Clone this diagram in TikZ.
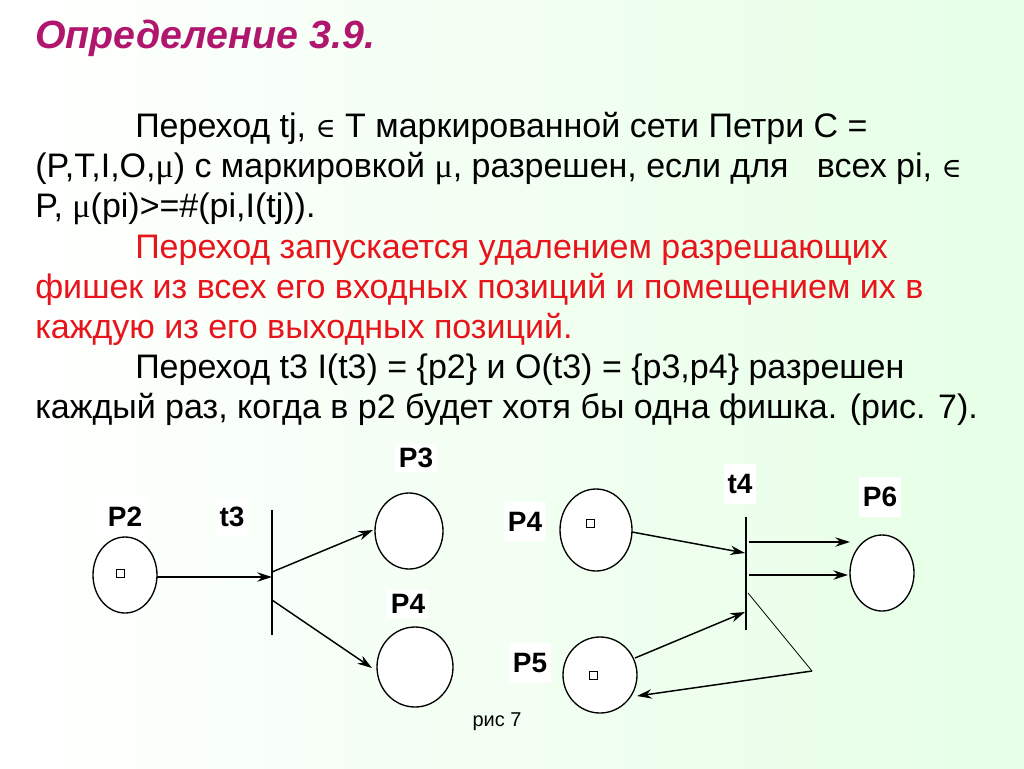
\documentclass[tikz,border=0pt]{standalone}
\usepackage{fontspec}
\setmainfont{Liberation Sans}
\newfontfamily\symfont{Liberation Serif}
\newfontfamily\elemfont{DejaVu Serif}
\usetikzlibrary{arrows.meta}
\definecolor{titlecol}{HTML}{B0166E}
\definecolor{redtext}{HTML}{E8141B}
\newcommand{\mmu}{{\symfont μ}}
\newcommand{\iin}{{\elemfont\scalebox{0.8}{∈}}}
\tikzset{
  token/.style={draw, line width=0.6pt, fill=white, minimum size=6pt, inner sep=0pt},
  lab/.style={fill=white, font=\fontsize{21}{24}\selectfont\bfseries, inner sep=3pt},
  bodyline/.style={anchor=base west, font=\fontsize{25.5}{30}\selectfont, inner sep=0pt},
  arc/.style={line width=1.1pt, -{Stealth[length=11pt, width=7pt]}},
}
\begin{document}
\begin{tikzpicture}[x=0.75pt, y=-0.75pt]
    \useasboundingbox (0,0) rectangle (1024,768);
    \shade[left color=white, right color=green!10] (0,0) rectangle (1024,768);

    % text
    \node[anchor=base west, inner sep=0pt, text=titlecol,
          font=\fontsize{29.5}{34}\selectfont\bfseries\itshape] (title) at (35,48) {Определение 3.9.};
    \node[bodyline] (l1) at (135,137) {Переход tj, \iin{} T маркированной сети Петри C =};
    \node[bodyline] (l2) at (35,177) {(P,T,I,O,\mmu) с маркировкой \mmu, разрешен, если для\ \ \ всех pi, \iin};
    \node[bodyline] (l3) at (35,217) {P, \mmu(pi)>=\#(pi,I(tj)).};
    \node[bodyline, text=redtext] (l4) at (135,258) {Переход запускается удалением разрешающих};
    \node[bodyline, text=redtext] (l5) at (35,298) {фишек из всех его входных позиций и помещением их в};
    \node[bodyline, text=redtext] (l6) at (35,338) {каждую из его выходных позиций.};
    \node[bodyline] (l7) at (135,378) {Переход t3 I(t3) = \{p2\} и O(t3) = \{p3,p4\} разрешен};
    \node[bodyline] (l8) at (35,418) {каждый раз, когда в p2 будет хотя бы одна фишка. (рис. 7).};

    % places
    \draw[line width=1pt, fill=white] (125,575) ellipse (32 and 38);
    \coordinate (p2) at (125,575);
    \draw[line width=1pt, fill=white] (409,531) ellipse (34 and 38);
    \coordinate (p3) at (409,531);
    \draw[line width=1pt, fill=white] (415,667) ellipse (38 and 40);
    \coordinate (p4a) at (415,667);
    \draw[line width=1pt, fill=white] (596,530) ellipse (36 and 41);
    \coordinate (p4b) at (596,530);
    \draw[line width=1pt, fill=white] (600,675) ellipse (37 and 38);
    \coordinate (p5) at (600,675);
    \draw[line width=1pt, fill=white] (882,573) ellipse (32 and 38);
    \coordinate (p6) at (882,573);

    % tokens
    \node[token] (k2) at (120,573) {};
    \node[token] (k4) at (590,523) {};
    \node[token] (k5) at (593,675) {};

    % transitions
    \coordinate (t3top) at (272,510);
    \coordinate (t3bot) at (272,635);
    \draw[line width=0.9pt] (t3top) -- (t3bot);
    \coordinate (t4top) at (746,517);
    \coordinate (t4bot) at (746,630);
    \draw[line width=0.9pt] (t4top) -- (t4bot);

    % labels
    \node[lab, minimum width=36pt, minimum height=28pt] (labp2) at (125,517) {P2};
    \node[lab, minimum height=28pt] (labt3) at (232,517) {t3};
    \node[lab] (labp3) at (416,458) {P3};
    \node[lab] (labp4a) at (408,604) {P4};
    \node[lab, minimum height=30pt] (labp4b) at (525,522) {P4};
    \node[lab, minimum height=30pt] (labp5) at (530,663) {P5};
    \node[lab, minimum height=30pt] (labt4) at (740,484) {t4};
    \node[lab, minimum height=30pt] (labp6) at (880,497) {P6};
    \node[font=\fontsize{15}{17}\selectfont] (fig) at (497,722) {рис 7};

    % arcs
    \draw[arc] (157,577) -- (272,577);
    \draw[arc] (272,572) -- (373,530);
    \draw[arc] (272,600) -- (372,668);
    \draw[arc] (632,532) -- (745,553);
    \draw[arc] (635,658) -- (745,612);
    \draw[arc] (749,542) -- (850,542);
    \draw[arc] (749,575) -- (848,575);
    \coordinate (bend) at (812,671);
    \draw[line width=0.6pt] (748,593) -- (bend);
    \draw[arc] (bend) -- (637,696);
\end{tikzpicture}
\end{document}
